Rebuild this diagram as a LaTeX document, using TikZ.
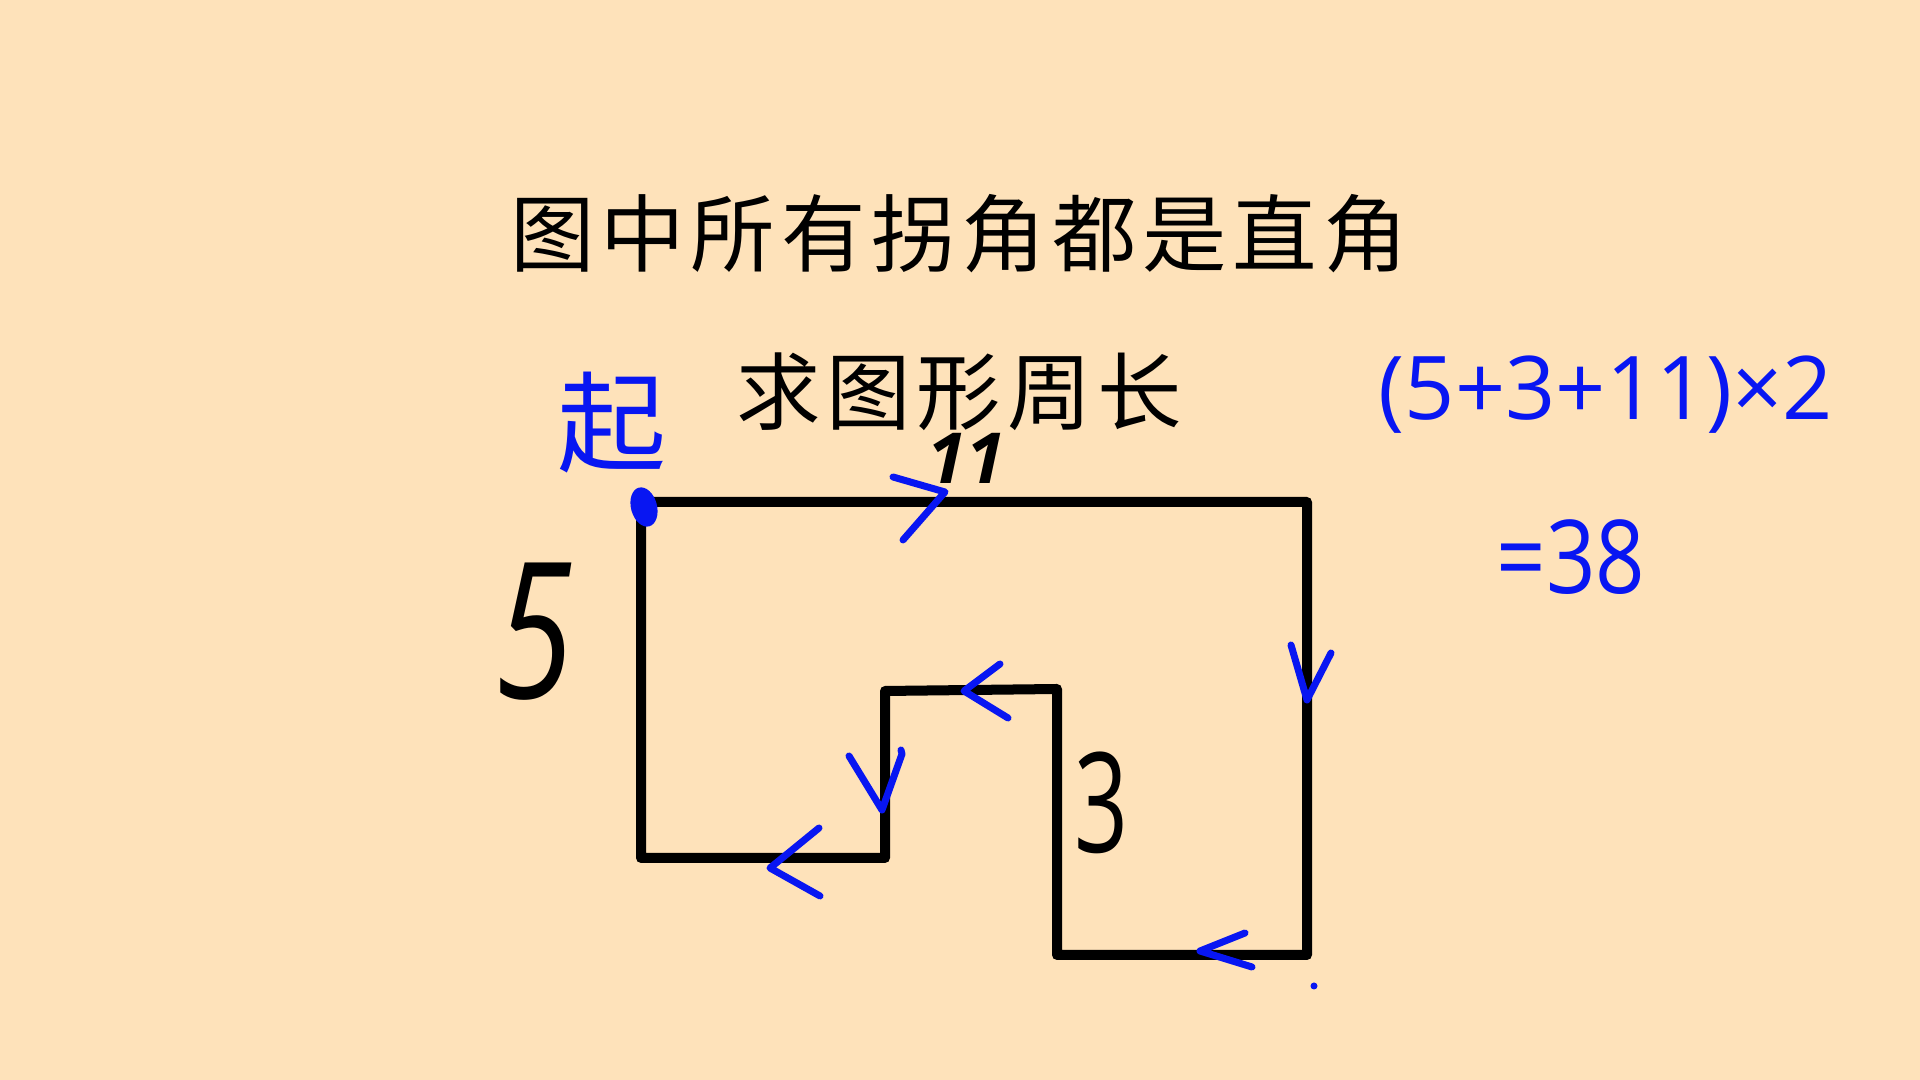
\documentclass[tikz,border=0pt]{standalone}
\usepackage{fontspec}
\newfontfamily\cjk{Noto Sans CJK SC}
\newfontfamily\hand{Open Sans}
\definecolor{bg}{RGB}{254,226,186}
\definecolor{ink}{RGB}{8,22,242}
\begin{document}
\begin{tikzpicture}[x=0.01cm,y=-0.01cm,
  edge/.style={draw=black,line width=0.1cm,line join=round,line cap=round},
  chev/.style={draw=ink,line width=0.07cm,line join=round,line cap=round},
  titletext/.style={inner sep=0,font=\cjk\fontsize{24pt}{24pt}\selectfont\addfontfeatures{LetterSpace=7}},
  blackdigit/.style={inner sep=0,text=black},
  bluetext/.style={inner sep=0,text=ink,font=\hand\fontsize{25pt}{25pt}\selectfont}]
\fill[bg] (0,0) rectangle (1920,1080);
\useasboundingbox (0,0) rectangle (1920,1080);

% titles
\node[titletext] (t1) at (959,234) {图中所有拐角都是直角};
\node[titletext] (t2) at (959,392) {求图形周长};

% corners of the figure
\coordinate (A) at (641,502);
\coordinate (B) at (1307,502);
\coordinate (C) at (1307,955);
\coordinate (D) at (1057,955);
\coordinate (E) at (1057,689);
\coordinate (F) at (885,691);
\coordinate (G) at (885,858);
\coordinate (H) at (641,858);
\draw[edge] (A) -- (B) -- (C) -- (D) -- (E) -- (F) -- (G) -- (H) -- cycle;

% handwritten lengths
\node[blackdigit,font=\hand\itshape\fontsize{54pt}{54pt}\selectfont,xscale=0.75,transform shape] (five) at (535,632) {5};
\node[blackdigit,font=\hand\fontsize{39.5pt}{39.5pt}\selectfont,xscale=0.68,transform shape] (three) at (1101,803) {3};
\node[blackdigit,font=\hand\bfseries\itshape\fontsize{20pt}{20pt}\selectfont] (eleven) at (966,458) {11};

% start mark
\node[inner sep=0,text=ink,font=\cjk\fontsize{31pt}{31pt}\selectfont] (qi) at (612,423) {起};
\fill[ink,rotate around={15:(644,507)}] (644,507) ellipse [x radius=0.13cm, y radius=0.2cm];

% direction chevrons
\draw[chev] (893,477) -- (945,492) -- (903,540);
\draw[chev] (1291,645) -- (1307,700) -- (1331,653);
\draw[chev] (1000,664) -- (964,691) -- (1008,718);
\draw[chev] (849,756) -- (882,810) -- (902,754) -- (901,750);
\draw[chev] (819,828) -- (770,868) -- (820,896);
\draw[chev] (1245,933) -- (1200,951) -- (1252,967);
\fill[ink] (1314,986) circle [radius=0.035cm];

% working
\node[bluetext,anchor=base] (f1) at (1606,420) {(5+3+11)×2};
\node[bluetext,anchor=base,font=\hand\fontsize{29pt}{29pt}\selectfont,xscale=0.85,transform shape] (f2) at (1571,594) {=38};
\end{tikzpicture}
\end{document}
